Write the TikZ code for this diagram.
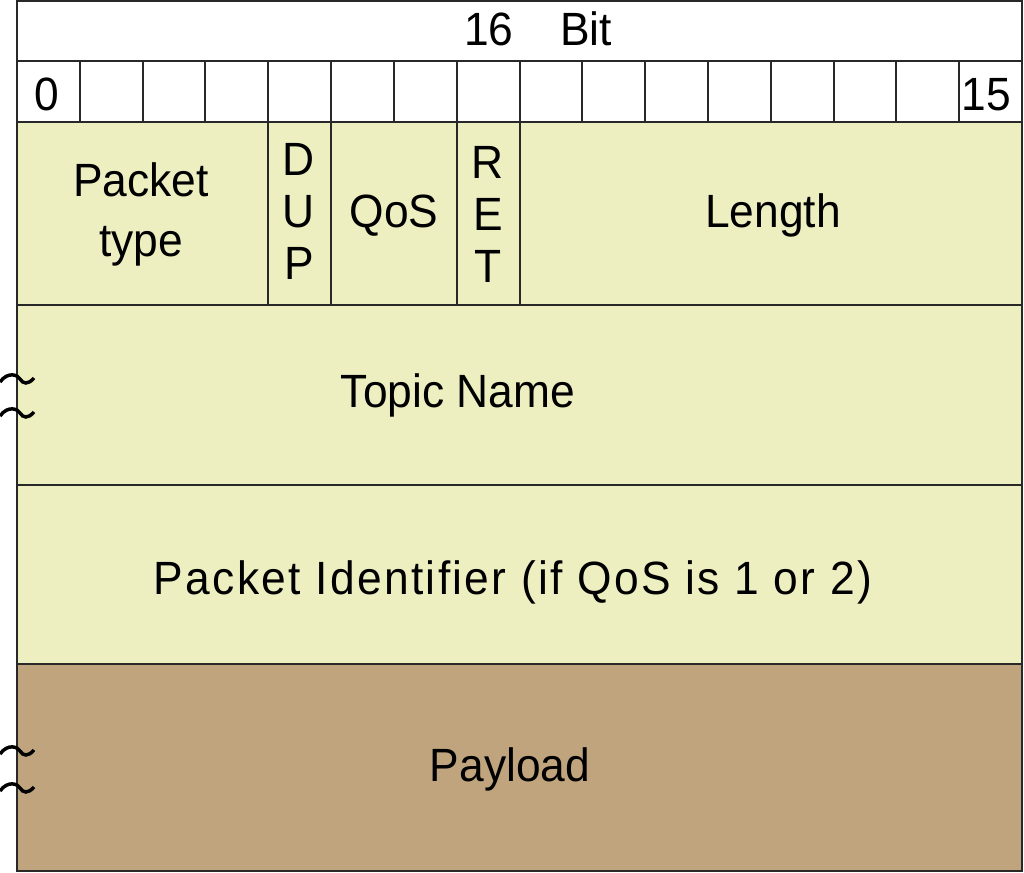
\documentclass[tikz,border=0pt]{standalone}
\usepackage{fontspec}
\setmainfont[FakeStretch=0.95]{Liberation Sans}
\definecolor{fieldyellow}{RGB}{238,239,193}
\definecolor{payloadbrown}{RGB}{191,164,125}
\definecolor{gridline}{RGB}{40,40,40}
\tikzset{every picture/.style={line width=1.5pt}}
\tikzset{
  lbl/.style={anchor=base,inner sep=0pt,font=\fontsize{35}{39}\selectfont,align=center},
  cellline/.style={draw=gridline,line width=1.5pt},
  wave/.style={draw=black,line width=2.6pt}
}

\begin{document}
\begin{tikzpicture}[x=0.75pt,y=0.75pt,yscale=-1,xscale=1]
\useasboundingbox (0,0) rectangle (1024,873);

%Shape: Rectangle, header row
\draw [cellline,fill=white] (17,1) -- (1022,1) -- (1022,61) -- (17,61) -- cycle ;
%Shape: Rectangle, bit cells
\foreach \i in {0,...,15}
  \draw [cellline,fill=white] ({17+\i*62.8125},61) rectangle ({17+(\i+1)*62.8125},122) ;
%Shape: Rectangle, flag fields
\draw [cellline,fill=fieldyellow] (17,122) rectangle (268,305) ;
\draw [cellline,fill=fieldyellow] (268,122) rectangle (331,305) ;
\draw [cellline,fill=fieldyellow] (331,122) rectangle (457,305) ;
\draw [cellline,fill=fieldyellow] (457,122) rectangle (520,305) ;
\draw [cellline,fill=fieldyellow] (520,122) rectangle (1022,305) ;
%Shape: Rectangle, topic name
\draw [cellline,fill=fieldyellow] (17,305) rectangle (1022,485) ;
%Shape: Rectangle, packet identifier
\draw [cellline,fill=fieldyellow] (17,485) rectangle (1022,664) ;
%Shape: Rectangle, payload
\draw [cellline,fill=payloadbrown] (17,664) rectangle (1022,871) ;

%Curve Lines, variable length marks
\foreach \y in {379,413,751,788}
  \draw [wave] (0,\y+3) .. controls (8,\y-8) and (18,\y-4) .. (20,\y) .. controls (23,\y+5) and (28,\y+6) .. (34,\y-1) ;

% Text Node
\node [lbl] (bits) at (538,46) {16\hspace{1.0em}Bit};
% Text Node
\node [lbl] (bitzero) at (47,111) {0};
% Text Node
\node [lbl] (bitlast) at (986,111) {15};
% Text Node
\node [lbl] (ptype) at (141,257) {Packet\\[6pt]type};
% Text Node
\node [lbl] (dup) at (299,280) {D\\U\\P};
% Text Node
\node [lbl] (qos) at (394,228) {QoS};
% Text Node
\node [lbl] (ret) at (488,283) {R\\E\\T};
% Text Node
\node [lbl] (length) at (773,228) {Length};
% Text Node
\node [lbl] (topic) at (458,407) {Topic Name};
% Text Node
\node [lbl] (packetid) at (513,594) {\addfontfeatures{LetterSpace=5}Packet Identifier (if QoS is 1 or 2)};
% Text Node
\node [lbl] (payload) at (510,781) {Payload};

\end{tikzpicture}
\end{document}
